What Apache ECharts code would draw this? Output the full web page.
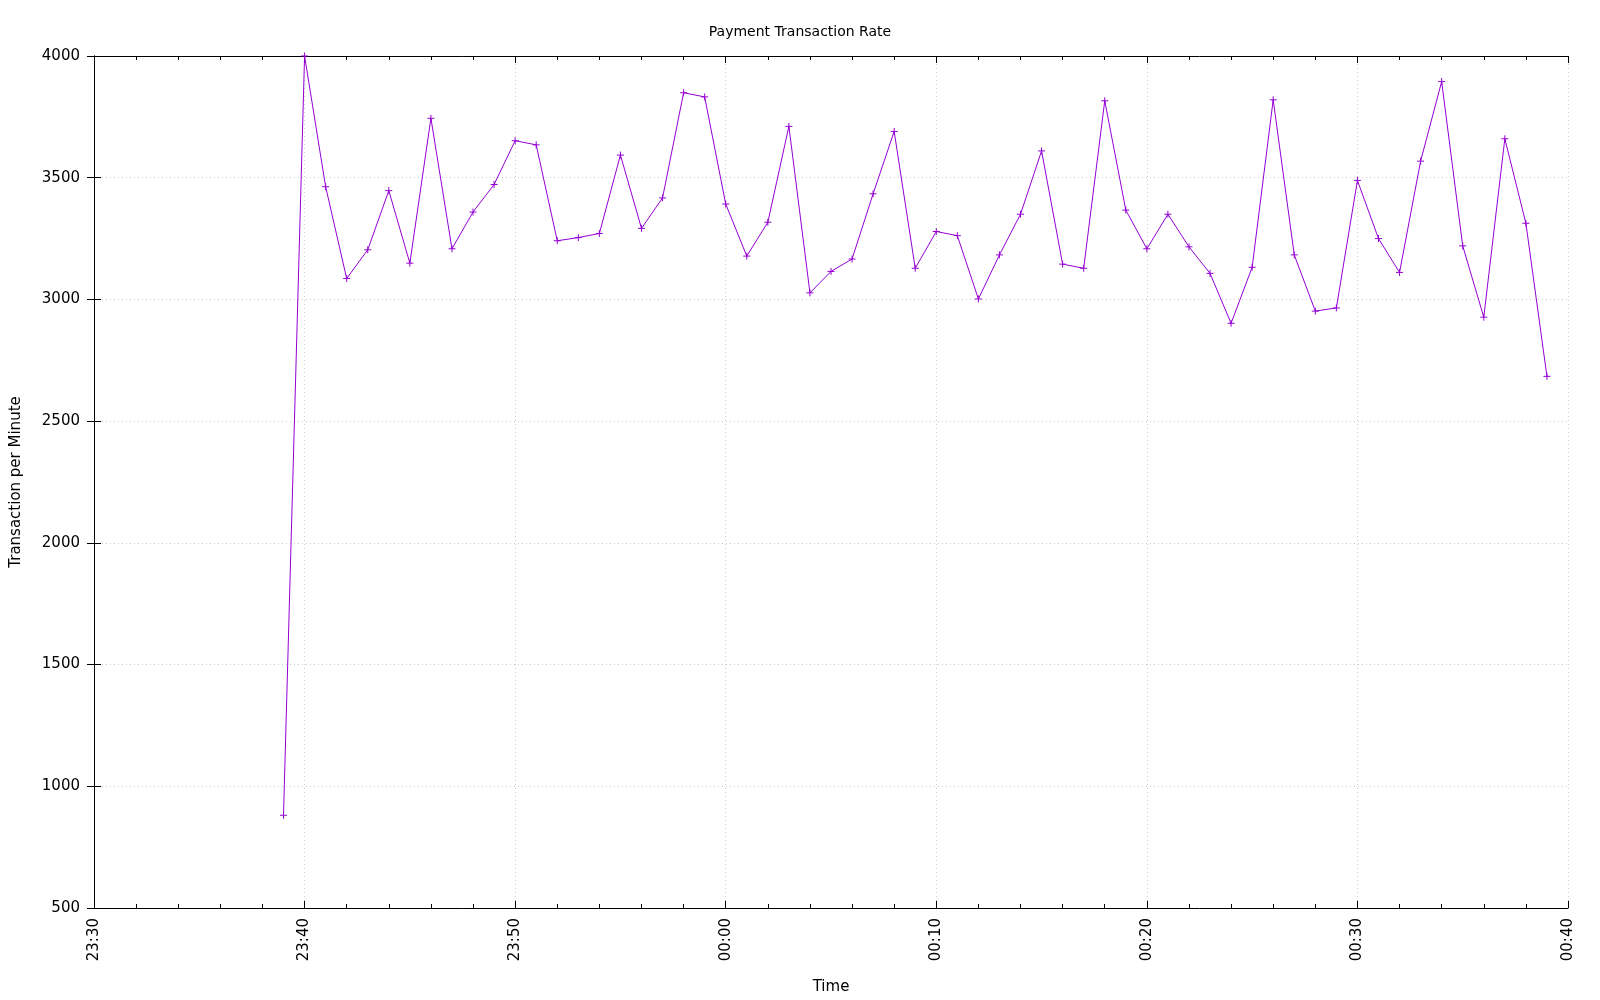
<!DOCTYPE html>
<html><head><meta charset="utf-8">
<script src="https://cdn.jsdelivr.net/npm/echarts@6/dist/echarts.min.js"></script>
<style>html,body{margin:0;background:#fff}#c{width:1600px;height:1000px}</style>
</head><body><div id="c"></div>
<script>
const times = ["23:39","23:40","23:41","23:42","23:43","23:44","23:45","23:46","23:47","23:48","23:49","23:50","23:51","23:52","23:53","23:54","23:55","23:56","23:57","23:58","23:59","00:00","00:01","00:02","00:03","00:04","00:05","00:06","00:07","00:08","00:09","00:10","00:11","00:12","00:13","00:14","00:15","00:16","00:17","00:18","00:19","00:20","00:21","00:22","00:23","00:24","00:25","00:26","00:27","00:28","00:29","00:30","00:31","00:32","00:33","00:34","00:35","00:36","00:37","00:38","00:39"];
const rates = [881,4000,3463,3086,3204,3447,3149,3744,3208,3359,3472,3652,3635,3241,3254,3271,3593,3292,3417,3849,3832,3392,3178,3317,3711,3027,3115,3166,3434,3690,3128,3279,3262,3002,3183,3350,3610,3145,3128,3816,3367,3208,3350,3216,3107,2902,3132,3820,3183,2952,2965,3489,3250,3111,3568,3895,3220,2927,3660,3313,2684];
const xTickLabels = ["23:30","23:40","23:50","00:00","00:10","00:20","00:30","00:40"];
function toMin(t){const [h,m]=t.split(":").map(Number);let v=h*60+m-(23*60+30);if(v<0)v+=1440;return v;}
const data = times.map((t,i)=>[toMin(t),rates[i]]);
const ch = echarts.init(document.getElementById('c'));
const F = 'DejaVu Sans';
const tickStyle = {show:true,inside:true,length:7,lineStyle:{color:'#000'}};
const minorStyle = {show:true,splitNumber:5,length:4,lineStyle:{color:'#000'}};
ch.setOption({
  animation:false,
  title:{text:'Payment Transaction Rate',left:'center',top:20,textStyle:{fontFamily:F,fontSize:14,fontWeight:'normal',color:'#000'}},
  grid:{left:94,right:32,top:56,bottom:92,containLabel:false},
  xAxis:[{type:'value',min:0,max:70,interval:10,name:'Time',nameLocation:'middle',nameGap:72,
    nameTextStyle:{fontFamily:F,fontSize:15,color:'#000'},
    axisLine:{lineStyle:{color:'#000'}},axisTick:tickStyle,minorTick:minorStyle,
    axisLabel:{rotate:90,fontFamily:F,fontSize:15,color:'#000',margin:10,formatter:v=>xTickLabels[v/10]},
    splitLine:{show:true,lineStyle:{color:'#ccc',type:[1,3]}}},
   {type:'value',position:'top',min:0,max:70,interval:10,axisLine:{lineStyle:{color:'#000'}},axisTick:tickStyle,minorTick:minorStyle,axisLabel:{show:false},splitLine:{show:false}}],
  yAxis:[{type:'value',min:500,max:4000,interval:500,name:'Transaction per Minute',nameLocation:'middle',nameGap:70,
    nameTextStyle:{fontFamily:F,fontSize:15,color:'#000'},
    axisLine:{show:true,lineStyle:{color:'#000'}},axisTick:tickStyle,
    axisLabel:{fontFamily:F,fontSize:15,color:'#000',margin:14,formatter:v=>String(v)},
    splitLine:{show:true,lineStyle:{color:'#ccc',type:[1,3]}}},
   {type:'value',position:'right',min:500,max:4000,interval:500,axisLine:{show:true,lineStyle:{color:'#000'}},axisTick:tickStyle,axisLabel:{show:false},splitLine:{show:false}}],
  series:[{type:'line',data:data,color:'#9400d3',lineStyle:{width:1,color:'#9400d3'},
    symbol:'path://M0,5L10,5M5,0L5,10',symbolSize:7,showSymbol:true,
    itemStyle:{color:'none',borderColor:'#9400d3',borderWidth:1}}]
});
</script></body></html>
